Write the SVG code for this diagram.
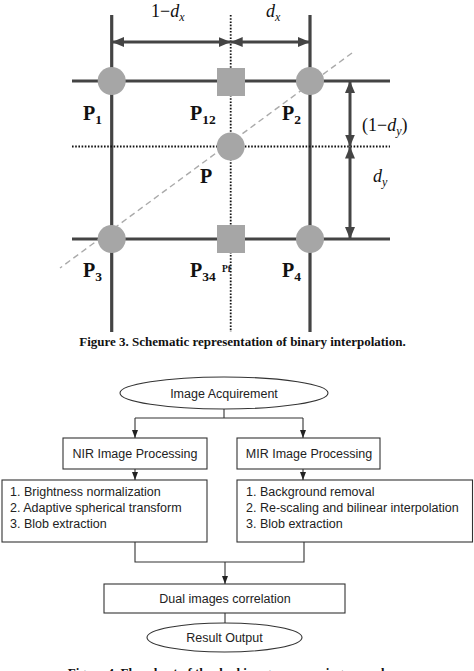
<svg xmlns="http://www.w3.org/2000/svg" width="474" height="671" viewBox="0 0 474 671">
<defs>
<style>
.grid{stroke:#444;stroke-width:3.2;fill:none}
.dot{stroke:#111;stroke-width:1.8;stroke-dasharray:1.6 1.6;fill:none}
.dash{stroke:#aaa;stroke-width:1.4;stroke-dasharray:6 4;fill:none}
.dim{stroke:#444;stroke-width:3;fill:none}
.pt{fill:#a6a6a6}
.pl{font-family:"Liberation Serif",serif;font-weight:bold;font-size:20px;fill:#111}
.sub{font-size:13.5px}
.math{font-family:"Liberation Serif",serif;font-size:18px;fill:#111}
.it{font-style:italic}
.cap{font-family:"Liberation Serif",serif;font-weight:bold;font-size:13px;fill:#111}
.fl{stroke:#333;stroke-width:1.1;fill:#fff}
.fc{stroke:#333;stroke-width:1.1;fill:none}
.ft{font-family:"Liberation Sans",Arial,sans-serif;font-size:12.5px;fill:#222}
</style>
<marker id="ah" viewBox="0 0 12 10" refX="12" refY="5" markerWidth="12" markerHeight="10" markerUnits="userSpaceOnUse" orient="auto-start-reverse">
<path d="M0,0 L12,5 L0,10 Z" fill="#444"/>
</marker>
<marker id="fa" viewBox="0 0 8 6" refX="8" refY="3" markerWidth="8" markerHeight="6" markerUnits="userSpaceOnUse" orient="auto">
<path d="M0,0 L8,3 L0,6 Z" fill="#222"/>
</marker>
</defs>
<rect width="474" height="671" fill="#fff"/>

<g id="interp-grid">
<line class="grid" x1="111.7" y1="15" x2="111.7" y2="332"/>
<line class="grid" x1="310" y1="15" x2="310" y2="332"/>
<line class="grid" x1="72" y1="81" x2="390" y2="81"/>
<line class="grid" x1="72" y1="239" x2="390" y2="239"/>
<line class="dot" x1="230.7" y1="15" x2="230.7" y2="332"/>
<line class="dot" x1="72" y1="146.5" x2="390" y2="146.5"/>
<line class="dash" x1="352" y1="53" x2="60" y2="268"/>
</g>

<g id="dimensions">
<line class="dim" x1="112" y1="42" x2="230.7" y2="42" marker-start="url(#ah)" marker-end="url(#ah)"/>
<line class="dim" x1="230.7" y1="42" x2="310" y2="42" marker-start="url(#ah)" marker-end="url(#ah)"/>
<line class="dim" x1="350" y1="81" x2="350" y2="146.5" marker-start="url(#ah)" marker-end="url(#ah)"/>
<line class="dim" x1="350" y1="146.5" x2="350" y2="239" marker-start="url(#ah)" marker-end="url(#ah)"/>
<text class="math" x="151" y="17">1−<tspan class="it">d</tspan><tspan class="it" font-size="12" dy="4">x</tspan></text>
<text class="math" x="266" y="17"><tspan class="it">d</tspan><tspan class="it" font-size="12" dy="4">x</tspan></text>
<text class="math" x="362" y="131">(1−<tspan class="it">d</tspan><tspan class="it" font-size="12" dy="4">y</tspan><tspan dy="-4">)</tspan></text>
<text class="math" x="373" y="182"><tspan class="it">d</tspan><tspan class="it" font-size="12" dy="4">y</tspan></text>
</g>

<g id="P1"><circle class="pt" cx="111.7" cy="81" r="14"/><text class="pl" x="83" y="120">P<tspan class="sub" dy="4">1</tspan></text></g>
<g id="P12"><rect class="pt" x="217" y="68" width="28" height="28"/><text class="pl" x="190" y="120">P<tspan class="sub" dy="4">12</tspan></text></g>
<g id="P2"><circle class="pt" cx="310" cy="81" r="14"/><text class="pl" x="282" y="120">P<tspan class="sub" dy="4">2</tspan></text></g>
<g id="P"><circle class="pt" cx="230.7" cy="146.5" r="14"/><text class="pl" x="200" y="183">P</text></g>
<g id="P3"><circle class="pt" cx="111.7" cy="239" r="14"/><text class="pl" x="83" y="277">P<tspan class="sub" dy="4">3</tspan></text></g>
<g id="P34"><rect class="pt" x="217" y="225" width="28" height="28"/><text class="pl" x="190" y="277">P<tspan class="sub" dy="4">34</tspan></text><text x="222" y="272" font-family="Liberation Serif,serif" font-weight="bold" font-size="9.5" fill="#111">Pf</text></g>
<g id="P4"><circle class="pt" cx="310" cy="239" r="14"/><text class="pl" x="282" y="277">P<tspan class="sub" dy="4">4</tspan></text></g>

<text class="cap" x="242.5" y="346" text-anchor="middle">Figure 3. Schematic representation of binary interpolation.</text>

<g id="connectors">
<path class="fc" d="M224,409 V418 M135,418 H303"/>
<line class="fc" x1="135" y1="418" x2="135" y2="438" marker-end="url(#fa)"/>
<line class="fc" x1="303" y1="418" x2="303" y2="438" marker-end="url(#fa)"/>
<line class="fc" x1="135" y1="469" x2="135" y2="480" marker-end="url(#fa)"/>
<line class="fc" x1="303" y1="469" x2="303" y2="480" marker-end="url(#fa)"/>
<path class="fc" d="M135,542 V562 H304 V542"/>
<line class="fc" x1="225" y1="562" x2="225" y2="584" marker-end="url(#fa)"/>
<line class="fc" x1="225" y1="613" x2="225" y2="623"/>
</g>

<g id="acquire"><ellipse class="fl" cx="224" cy="393" rx="104" ry="16"/><text class="ft" x="224" y="397.5" text-anchor="middle">Image Acquirement</text></g>
<g id="nir"><rect class="fl" x="63" y="438" width="144" height="31"/><text class="ft" x="135" y="457.5" text-anchor="middle">NIR Image Processing</text></g>
<g id="mir"><rect class="fl" x="237" y="438" width="143" height="31"/><text class="ft" x="309" y="457.5" text-anchor="middle">MIR Image Processing</text></g>
<g id="nir-steps"><rect class="fl" x="2" y="480" width="205" height="62"/>
<text class="ft" x="10" y="496">1. Brightness normalization</text>
<text class="ft" x="10" y="512">2. Adaptive spherical transform</text>
<text class="ft" x="10" y="528">3. Blob extraction</text></g>
<g id="mir-steps"><rect class="fl" x="237" y="480" width="235.5" height="62"/>
<text class="ft" x="246" y="496">1. Background removal</text>
<text class="ft" x="246" y="512">2. Re-scaling and bilinear interpolation</text>
<text class="ft" x="246" y="528">3. Blob extraction</text></g>
<g id="correlation"><rect class="fl" x="104" y="584" width="241" height="29"/><text class="ft" x="225" y="603" text-anchor="middle">Dual images correlation</text></g>
<g id="result"><ellipse class="fl" cx="224.5" cy="637.5" rx="77.5" ry="14.5"/><text class="ft" x="224.5" y="642" text-anchor="middle">Result Output</text></g>

<text class="cap" x="237" y="677" text-anchor="middle">Figure 4. Flowchart of the dual images processing procedure.</text>
</svg>
